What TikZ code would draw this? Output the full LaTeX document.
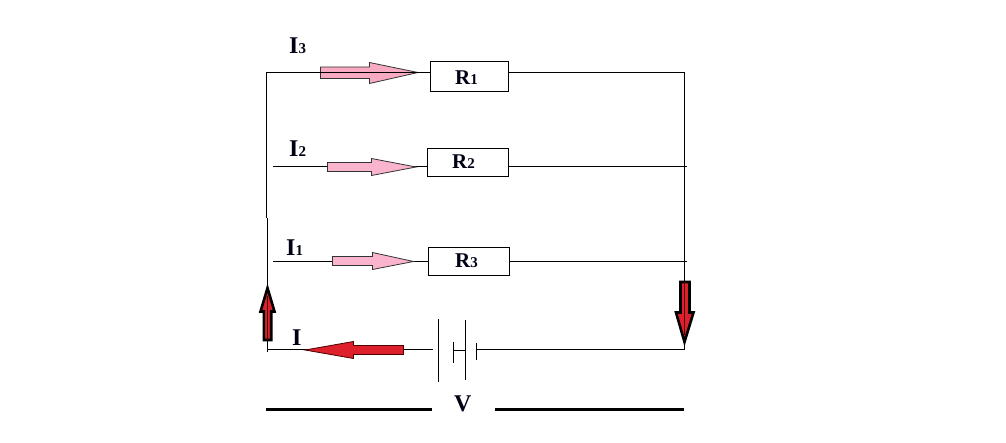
\documentclass[tikz,border=0pt]{standalone}
\usepackage{fontspec}
\setmainfont{Liberation Serif}
\definecolor{pinkA}{RGB}{248,170,195}
\definecolor{pinkB}{RGB}{250,180,205}
\definecolor{redA}{RGB}{222,32,44}
\tikzset{
  wire/.style={draw=black,line width=1pt},
  res/.style={draw=black,line width=1pt,fill=white,inner sep=0pt},
  rlab/.style={inner sep=0pt,anchor=base,font=\fontsize{21}{21}\selectfont\bfseries,text=black!92!blue},
  lab/.style={inner sep=0pt,anchor=base west,font=\fontsize{24}{24}\selectfont\bfseries,text=black!92!blue},
  parrow/.style={draw=black!80,line width=.8pt,fill=pinkA},
  rarrow/.style={draw=black!70!red,line width=.8pt,fill=redA},
  tarrow/.style={draw=black,line width=2.6pt,fill=redA,line join=miter,miter limit=4},
  vbar/.style={draw=black,line width=3pt},
}
\newcommand{\sbs}[1]{{\fontsize{15}{15}\selectfont #1}}
\begin{document}
\begin{tikzpicture}[x=1pt,y=-1pt]
\useasboundingbox (0,0) rectangle (1006,443);
\fill[white] (0,0) rectangle (1006,443);
% junction coordinates
\coordinate (tl) at (266.5,72.5);
\coordinate (tr) at (684.5,72.5);
\coordinate (ml) at (266.5,218);
\coordinate (ml2) at (267.5,218);
\coordinate (bl) at (267.5,349.5);
\coordinate (ble) at (267.5,352);
\coordinate (br) at (684.5,349.5);
\coordinate (a2) at (273,167);
\coordinate (b2) at (687,167);
\coordinate (a3) at (273,261.5);
\coordinate (b3) at (687,261.5);
% first arrow: wire runs over it
\draw[parrow] (320.5,67) -- (369.5,67) -- (369.5,62.5) -- (418,72.5) -- (369.5,83.5) -- (369.5,78.5) -- (320.5,78.5) -- cycle;
% resistors
\node[res,minimum height=30pt,minimum width=78pt] (R1) at (469.5,76.5) {};
\node[res,minimum height=28pt,minimum width=81pt] (R2) at (468,162.5) {};
\node[res,minimum height=28pt,minimum width=81pt] (R3) at (469,261.5) {};
\node[rlab] (T1) at (466.5,84.5) {R\sbs{1}};
\node[rlab] (T2) at (463.5,169) {R\sbs{2}};
\node[rlab] (T3) at (466.5,268) {R\sbs{3}};
% battery
\coordinate (p1t) at (438.5,319); \coordinate (p1b) at (438.5,382);
\coordinate (p2t) at (453.5,342); \coordinate (p2b) at (453.5,363);
\coordinate (p2m) at (453.5,350.5);
\coordinate (p3t) at (465.5,320); \coordinate (p3b) at (465.5,380);
\coordinate (p3m) at (465.5,350.5);
\coordinate (p4t) at (476.5,343); \coordinate (p4b) at (476.5,359.5);
\coordinate (p4m) at (476.5,349.5);
\coordinate (p0) at (432.5,349.5);
\draw[wire] (p1t) -- (p1b);
\draw[wire] (p2t) -- (p2b);
\draw[wire] (p3t) -- (p3b);
\draw[wire] (p4t) -- (p4b);
\draw[wire] (p2m) -- (p3m);
% wires
\draw[wire] (ml) -- (tl) -- (R1.west |- tl);
\draw[wire] (R1.east |- tr) -- (tr) -- (br) -- (p4m);
\draw[wire] (ml2) -- (ble);
\draw[wire] (bl) -- (p0);
\draw[wire] (a2) -- (R2.west |- a2);
\draw[wire] (R2.east |- b2) -- (b2);
\draw[wire] (a3) -- (R3.west |- a3);
\draw[wire] (R3.east |- b3) -- (b3);
% arrows above wires
\draw[parrow,fill=pinkB] (327.5,162.5) -- (371.5,162.5) -- (371.5,158.5) -- (416,167) -- (371.5,175.5) -- (371.5,171.5) -- (327.5,171.5) -- cycle;
\draw[parrow,fill=pinkB] (332.5,256.5) -- (372.5,256.5) -- (372.5,252.5) -- (413.5,261.5) -- (372.5,269.5) -- (372.5,265.5) -- (332.5,265.5) -- cycle;
\draw[rarrow] (403.5,345.5) -- (353.5,345.5) -- (353.5,341.5) -- (305,350) -- (353.5,358.5) -- (353.5,354.5) -- (403.5,354.5) -- cycle;
\draw[tarrow] (263.8,340) -- (263.8,311.5) -- (260.5,311.5) -- (267.5,288) -- (274.5,311.5) -- (271.2,311.5) -- (271.2,340) -- cycle;
\draw[tarrow] (680.5,282) -- (680.5,312.5) -- (676,312.5) -- (684.5,342) -- (693.5,312.5) -- (689.5,312.5) -- (689.5,282) -- cycle;
\draw[line width=.8pt,black!70!red] (267.5,340) -- (267.5,296);
\draw[line width=.8pt,black!70!red] (684.5,282) -- (684.5,335);
% labels
\node[lab] (L3) at (289,54) {I\sbs{3}};
\node[lab] (L2) at (289,157) {I\sbs{2}};
\node[lab] (L1) at (286,256) {I\sbs{1}};
\node[lab] (L0) at (292,345) {I};
\node[lab] (LV) at (454,411) {V};
% voltage bar
\coordinate (v1) at (266,409.5); \coordinate (v2) at (432,409.5);
\coordinate (v3) at (495,409.5); \coordinate (v4) at (684,409.5);
\draw[vbar] (v1) -- (v2);
\draw[vbar] (v3) -- (v4);
\end{tikzpicture}
\end{document}
